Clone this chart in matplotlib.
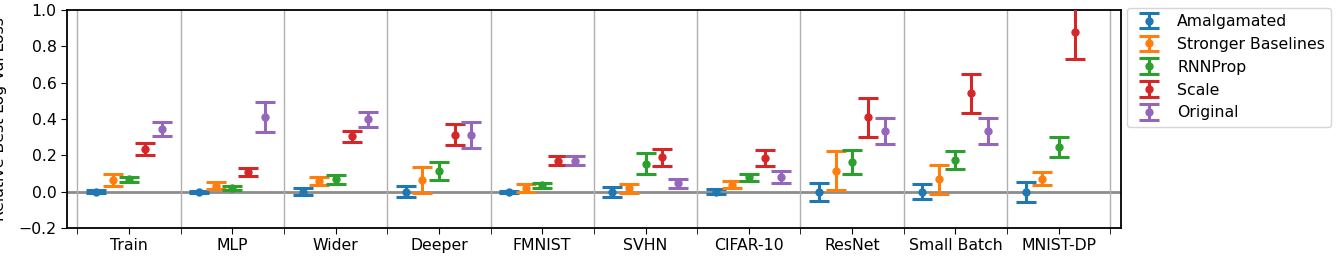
import numpy as np
import matplotlib
matplotlib.use("Agg")
import matplotlib.pyplot as plt

categories = ["Train", "MLP", "Wider", "Deeper", "FMNIST", "SVHN",
              "CIFAR-10", "ResNet", "Small Batch", "MNIST-DP"]
series = ["Amalgamated", "Stronger Baselines", "RNNProp", "Scale", "Original"]
colors = ["#1f77b4", "#ff7f0e", "#2ca02c", "#d62728", "#9467bd"]

amalgamated_mean = [0.0, 0.0, 0.0, 0.0, 0.0, 0.0, 0.0, 0.0, 0.0, 0.0]
amalgamated_err = [0.01, 0.006, 0.02, 0.03, 0.005, 0.028, 0.015, 0.05, 0.043, 0.055]
stronger_mean = [0.065, 0.033, 0.058, 0.065, 0.02, 0.019, 0.039, 0.116, 0.069, 0.072]
stronger_err = [0.034, 0.018, 0.023, 0.073, 0.02, 0.025, 0.021, 0.109, 0.08, 0.036]
rnnprop_mean = [0.067, 0.021, 0.067, 0.112, 0.035, 0.153, 0.078, 0.164, 0.176, 0.244]
rnnprop_err = [0.016, 0.01, 0.023, 0.05, 0.013, 0.058, 0.021, 0.067, 0.05, 0.055]
scale_mean = [0.235, 0.106, 0.306, 0.314, 0.171, 0.19, 0.187, 0.409, 0.541, 0.879]
scale_err = [0.035, 0.022, 0.03, 0.058, 0.027, 0.047, 0.044, 0.108, 0.108, 0.151]
original_mean = [0.346, 0.409, 0.398, 0.312, 0.171, 0.045, 0.081, 0.335, 0.335, np.nan]
original_err = [0.04, 0.082, 0.042, 0.072, 0.027, 0.027, 0.035, 0.073, 0.073, np.nan]

means = [amalgamated_mean, stronger_mean, rnnprop_mean, scale_mean, original_mean]
errs = [amalgamated_err, stronger_err, rnnprop_err, scale_err, original_err]
offsets = [-0.32, -0.16, 0.0, 0.155, 0.315]

plt.rcParams['font.family'] = ['DejaVu Sans']
fig = plt.figure(figsize=(13.41, 2.56), dpi=100)
ax = fig.add_axes([0.05, 0.1094, 0.7857, 0.8516])

x = np.arange(len(categories))
ax.axhline(0, color="#8c8c8c", linewidth=2, zorder=1)
for name, m, e, off, c in zip(series, means, errs, offsets, colors):
    ax.errorbar(x + off, m, yerr=e, fmt="o", color=c, markersize=5,
                elinewidth=2.2, capsize=7, capthick=2.2, label=name, zorder=3)

ax.set_xlim(-0.6, 9.6)
ax.set_ylim(-0.2, 1.0)
ax.set_xticks(x)
ax.set_xticklabels(categories, fontsize=11.3)
ax.set_xticks(np.arange(-0.5, 10, 1.0), minor=True)
ax.grid(True, which="minor", axis="x", color="#b0b0b0", linewidth=1)
ax.set_yticks(np.arange(-0.2, 1.01, 0.2))
ax.set_yticklabels([f"{v:.1f}".replace("-", "\u2212") for v in np.arange(-0.2, 1.01, 0.2)], fontsize=11.3)
ax.tick_params(axis="both", which="both", length=4)
ax.set_ylabel("Relative Best Log Val Loss", fontsize=11.3)
ax.yaxis.set_label_coords(-0.057, 0.5)
for s in ax.spines.values():
    s.set_linewidth(1.3)

ax.legend(loc="upper left", bbox_to_anchor=(1.006, 1.01), fontsize=11.3,
          borderaxespad=0.0)

fig.savefig("out.png", dpi=100)
